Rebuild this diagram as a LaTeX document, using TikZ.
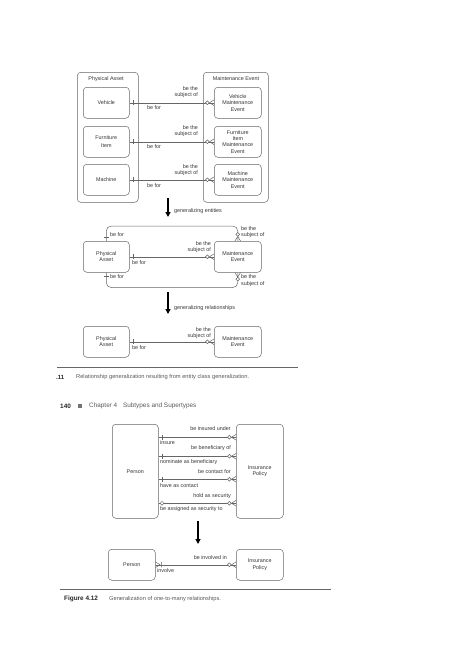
\documentclass[tikz,border=0pt]{standalone}
\usepackage{fontspec}
\setmainfont{Liberation Sans}
\usetikzlibrary{arrows.meta,calc}
\newcommand\lblfont{\fontsize{5.4}{6.4}\selectfont}
\newcommand\capfont{\fontsize{5.7}{6.5}\selectfont}
\begin{document}
\begin{tikzpicture}[x=1pt,y=-1pt,
  conn/.style={draw=black!60, line width=0.5pt},
  box/.style={draw=black!60, line width=0.5pt, rounded corners=3.5pt, anchor=north west, inner sep=1pt, align=center, font=\lblfont, text=black!80},
  lbl/.style={font=\lblfont, text=black!80, inner sep=0pt, align=left},
  lblr/.style={font=\lblfont, text=black!80, inner sep=0pt, align=right, anchor=east},
  lbll/.style={font=\lblfont, text=black!80, inner sep=0pt, align=left, anchor=west},
  bigarrow/.style={line width=1.6pt, -{Triangle[length=5pt,width=5pt]}},
  rule/.style={draw=black!60, line width=0.8pt},
  zmany/.pic={\draw[conn] (-4.5pt,0) -- (0,2.8pt) (-4.5pt,0) -- (0,-2.8pt); \draw[conn,fill=white] (-6.6pt,0) circle (1.9pt);},
  onebar/.pic={\draw[conn] (4pt,2.6pt) -- (4pt,-2.6pt);},
  onemany/.pic={\draw[conn] (4.5pt,0) -- (0,2.8pt) (4.5pt,0) -- (0,-2.8pt) (6pt,2.6pt) -- (6pt,-2.6pt);},
  zeroone/.pic={\draw[conn,fill=white] (3.5pt,0) circle (1.9pt);}
]
\useasboundingbox (0,0) rectangle (474,670);

% ---------- Figure 4.11 top ----------
\node[box, minimum width=61pt, minimum height=130pt] (pac) at (77,72) {};
\node[box, minimum width=65pt, minimum height=130pt] (mec) at (203,72) {};
\node[lbl] (pat) at (106,79) {Physical Asset};
\node[lbl] (met) at (236,79) {Maintenance Event};

\node[box, minimum width=46pt, minimum height=31pt] (veh) at (83,87) {Vehicle};
\node[box, minimum width=46pt, minimum height=31pt] (fur) at (83,126) {Furniture\\[1pt]Item};
\node[box, minimum width=46pt, minimum height=31pt] (mac) at (83,164) {Machine};
\node[box, minimum width=47pt, minimum height=31pt] (vme) at (214,87) {Vehicle\\Maintenance\\Event};
\node[box, minimum width=47pt, minimum height=31pt] (fme) at (214,126) {Furniture\\Item\\Maintenance\\Event};
\node[box, minimum width=47pt, minimum height=31pt] (mme) at (214,164) {Machine\\Maintenance\\Event};

\draw[conn] (veh.east) -- (vme.west);
\draw[conn] (fur.east) -- (fme.west);
\draw[conn] (mac.east) -- (mme.west);
\pic at (veh.east) {onebar}; \pic at (vme.west) {zmany};
\pic at (fur.east) {onebar}; \pic at (fme.west) {zmany};
\pic at (mac.east) {onebar}; \pic at (mme.west) {zmany};
\node[lblr] (l1a) at (198,92) {be the\\subject of};
\node[lbll] (l1b) at (147,108) {be for};
\node[lblr] (l2a) at (198,131) {be the\\subject of};
\node[lbll] (l2b) at (147,147) {be for};
\node[lblr] (l3a) at (198,170) {be the\\subject of};
\node[lbll] (l3b) at (147,186) {be for};

\coordinate (a1s) at (168,198); \coordinate (a1e) at (168,217);
\draw[bigarrow] (a1s) -- (a1e);
\node[lbll] (g1) at (174,211) {generalizing entities};

% ---------- middle ----------
\node[box, minimum width=46pt, minimum height=31pt] (pa2) at (83,241) {Physical\\Asset};
\node[box, minimum width=47pt, minimum height=31pt] (me2) at (214,241) {Maintenance\\Event};
\draw[conn] (pa2.east) -- (me2.west);
\pic at (pa2.east) {onebar}; \pic at (me2.west) {zmany};
\draw[conn, rounded corners=5pt] (pa2.north) |- ([yshift=15pt]me2.north) -- (me2.north);
\draw[conn, rounded corners=5pt] (pa2.south) |- ([yshift=-15pt]me2.south) -- (me2.south);
\pic[rotate=90] at (pa2.north) {onebar}; \pic[rotate=-90] at (me2.north) {zmany};
\pic[rotate=-90] at (pa2.south) {onebar}; \pic[rotate=90] at (me2.south) {zmany};
\node[lbll] (m1) at (110,235) {be for};
\node[lbll] (m2) at (241,232) {be the\\subject of};
\node[lblr] (m3) at (211,247) {be the\\subject of};
\node[lbll] (m4) at (132,263) {be for};
\node[lbll] (m5) at (110,277) {be for};
\node[lbll] (m6) at (241,280.5) {be the\\subject of};

\coordinate (a2s) at (168,292); \coordinate (a2e) at (168,314);
\draw[bigarrow] (a2s) -- (a2e);
\node[lbll] (g2) at (174,308) {generalizing relationships};

% ---------- bottom of 4.11 ----------
\node[box, minimum width=46pt, minimum height=31pt] (pa3) at (83,326) {Physical\\Asset};
\node[box, minimum width=47pt, minimum height=31pt] (me3) at (214,326) {Maintenance\\Event};
\draw[conn] (pa3.east) -- (me3.west);
\pic at (pa3.east) {onebar}; \pic at (me3.west) {zmany};
\node[lblr] (b1) at (211,333) {be the\\subject of};
\node[lbll] (b2) at (132,348) {be for};

\coordinate (r1s) at (57,367); \coordinate (r1e) at (298,367);
\draw[rule] (r1s) -- (r1e);
\node[anchor=west, inner sep=0pt, font=\fontsize{6}{7}\selectfont\bfseries, text=black!85] (c1n) at (56,377) {.11};
\node[anchor=west, inner sep=0pt, font=\capfont, text=black!65] (c1t) at (76,377) {Relationship generalization resulting from entity class generalization.};

% ---------- page header ----------
\node[anchor=west, inner sep=0pt, font=\fontsize{6.4}{7}\selectfont\bfseries, text=black!85] (pg) at (60,406) {140};
\fill[black!55] (78,404) rectangle (82,408);
\node[anchor=west, inner sep=0pt, font=\fontsize{6.4}{7}\selectfont, text=black!65] (ch) at (89,406) {Chapter 4\hspace{4pt} Subtypes and Supertypes};

% ---------- Figure 4.12 ----------
\node[box, minimum width=46pt, minimum height=94pt] (per) at (112,424) {Person};
\node[box, minimum width=47pt, minimum height=94pt] (ip) at (236,424) {Insurance\\Policy};
\draw[conn] ([yshift=34pt]per.east) -- ([yshift=34pt]ip.west);
\draw[conn] ([yshift=15pt]per.east) -- ([yshift=15pt]ip.west);
\draw[conn] ([yshift=-8pt]per.east) -- ([yshift=-8pt]ip.west);
\draw[conn] ([yshift=-32pt]per.east) -- ([yshift=-32pt]ip.west);
\pic at ([yshift=34pt]per.east) {onebar}; \pic at ([yshift=34pt]ip.west) {zmany};
\pic at ([yshift=15pt]per.east) {onebar}; \pic at ([yshift=15pt]ip.west) {zmany};
\pic at ([yshift=-8pt]per.east) {onebar}; \pic at ([yshift=-8pt]ip.west) {zmany};
\pic at ([yshift=-32pt]per.east) {zeroone}; \pic at ([yshift=-32pt]ip.west) {zmany};
\node[lblr] (p1) at (231,429) {be insured under};
\node[lbll] (p2) at (160,443) {insure};
\node[lblr] (p3) at (231,448) {be beneficiary of};
\node[lbll] (p4) at (160,462) {nominate as beneficiary};
\node[lblr] (p5) at (231,472) {be contact for};
\node[lbll] (p6) at (160,486) {have as contact};
\node[lblr] (p7) at (231,496) {hold as security};
\node[lbll] (p8) at (160,509) {be assigned as security to};

\coordinate (a3s) at (198,521); \coordinate (a3e) at (198,544);
\draw[bigarrow] (a3s) -- (a3e);

\node[box, minimum width=47pt, minimum height=31pt] (per2) at (108,549) {Person};
\node[box, minimum width=47pt, minimum height=31pt] (ip2) at (236,549) {Insurance\\Policy};
\draw[conn] (per2.east) -- (ip2.west);
\pic at (per2.east) {onemany}; \pic at (ip2.west) {zmany};
\node[lblr] (q1) at (227,558) {be involved in};
\node[lbll] (q2) at (157,571) {involve};

\coordinate (r2s) at (60,589); \coordinate (r2e) at (331,589);
\draw[rule] (r2s) -- (r2e);
\node[anchor=west, inner sep=0pt, font=\fontsize{6.4}{7}\selectfont\bfseries, text=black!85] (c2n) at (64,599) {Figure 4.12};
\node[anchor=west, inner sep=0pt, font=\capfont, text=black!65] (c2t) at (109,599) {Generalization of one-to-many relationships.};
\end{tikzpicture}
\end{document}
